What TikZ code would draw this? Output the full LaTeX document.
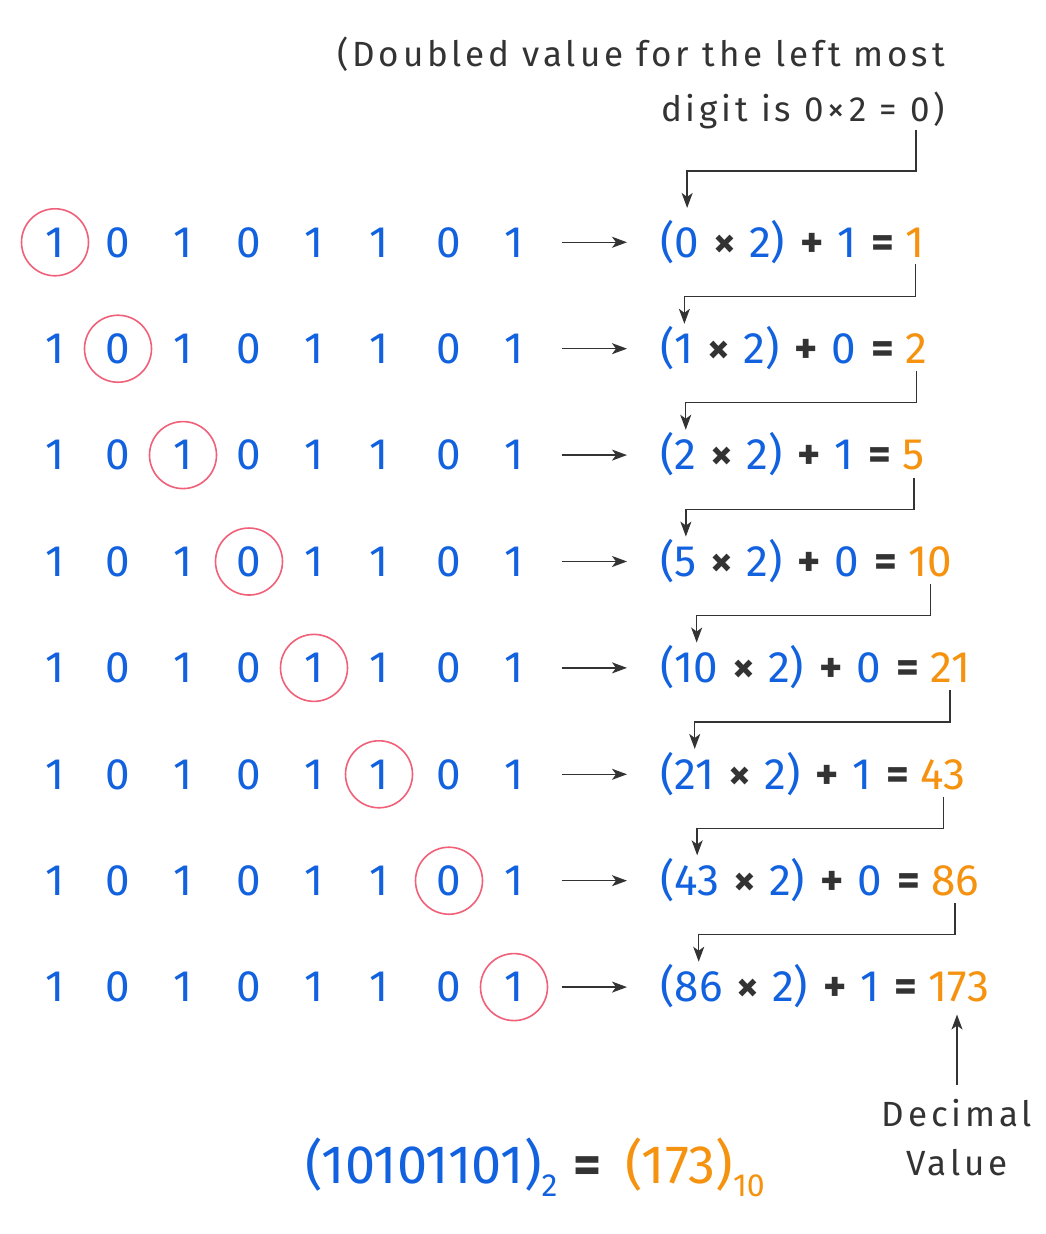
\documentclass[tikz,border=0pt]{standalone}
\usepackage{fontspec}
\setmainfont{Fira Sans}
\newfontfamily\notefont[LetterSpace=11]{Fira Sans}
\usetikzlibrary{positioning,arrows.meta,calc}
\definecolor{bitblue}{HTML}{1262E0}
\definecolor{resorange}{HTML}{F5920F}
\definecolor{ringred}{HTML}{F06078}
\definecolor{inkgray}{HTML}{333333}
\newcommand{\op}[1]{{\color{inkgray}\fontseries{sb}\selectfont #1}}
\tikzset{%
  bit/.style={inner sep=0pt,anchor=base,text=bitblue,
    font=\fontsize{44}{44}\selectfont},
  ring/.style={circle,draw=ringred,line width=1.6pt,minimum size=67pt},
  eq/.style={inner sep=0pt,anchor=base west,text=bitblue,
    font=\fontsize{44}{44}\selectfont},
  note/.style={inner sep=0pt,text=inkgray,
    font=\notefont\fontsize{35}{49}\selectfont},
  link/.style={draw=inkgray,line width=1.4pt,
    -{Stealth[length=15pt,width=11pt,inset=4pt]}}
}
\begin{document}
\begin{tikzpicture}[x=1pt,y=-1pt]
  \path[use as bounding box,fill=white] (0,0) rectangle (1045,1234);

  \node[note,anchor=base east] (top1) at (945,66) {(Doubled value for the left most};
  \node[note,anchor=base east] (top2) at (945,121) {digit is 0×2 = 0)};
  \coordinate (src) at (916,130);

  % one row per step
  \foreach \pv/\bv/\rv [count=\r] in {0/1/1,1/0/2,2/1/5,5/0/10,10/0/21,21/1/43,43/0/86,86/1/173}{
    \pgfmathsetmacro{\base}{257+106.4*(\r-1)}
    \foreach \x/\v [count=\i] in {55/1,118/0,183/1,249/0,314/1,379/1,449/0,514/1}
      \node[bit] (d\r-\i) at (\x,\base) {\v};
    \node[ring] (ring\r) at (d\r-\r.center) {};
    \node[eq] (p\r) at (660,\base) {(};
    \node[eq, base right=0pt of p\r] (a\r) {\pv};
    \node[eq, base right=0pt of a\r] (m\r)
      {\hspace{.3em}\op{×}\hspace{.3em}2)\hspace{.35em}\op{+}\hspace{.3em}\bv\hspace{.35em}\op{=}};
    \node[eq, text=resorange, base right=11pt of m\r] (res\r) {\rv};
    \draw[link, shorten <=38pt, shorten >=33pt] (d\r-8.east) -- (d\r-8.east -| p\r.west);
  }

  \draw[link] (src) |- ([yshift=56pt]a1.north) -- ([yshift=19pt]a1.north);
  \foreach \r [evaluate=\r as \n using int(\r+1)] in {1,...,7}
    \draw[link, shorten <=7pt] (res\r.south) |- ([yshift=37pt]a\n.north) -- ([yshift=10pt]a\n.north);

  \node[note, align=center, anchor=north] (decval) at (957,1099) {Decimal\\Value};
  \draw[link, shorten <=14pt, shorten >=12pt] (decval.north) -- (decval.north |- res8.south);

  \node[inner sep=0pt, anchor=base, font=\fontsize{54}{54}\selectfont] (total) at (535,1183)
    {\textcolor{bitblue}{(10101101)\raisebox{-13pt}{\fontsize{32}{32}\selectfont 2}}\hspace{16pt}\op{=}\hspace{24pt}\textcolor{resorange}{(173)\raisebox{-13pt}{\fontsize{32}{32}\selectfont 10}}};
\end{tikzpicture}
\end{document}
